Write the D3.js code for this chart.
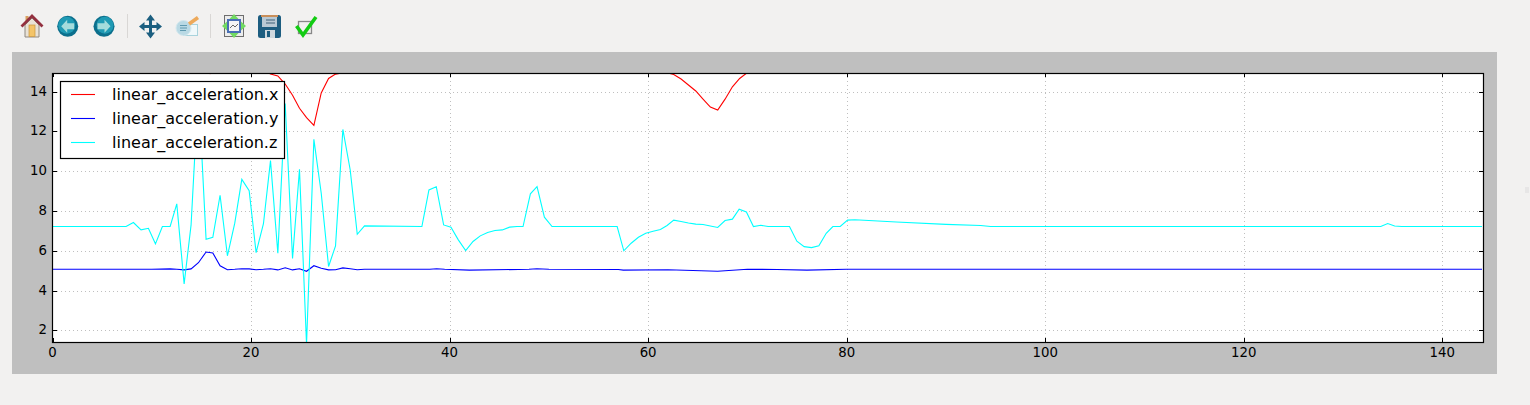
<!DOCTYPE html>
<html><head><meta charset="utf-8">
<script src="https://cdn.jsdelivr.net/npm/d3@7"></script>
<style>html,body{margin:0;padding:0;background:#f2f1f0;overflow:hidden}svg{display:block}text{font-family:"DejaVu Sans",sans-serif;fill:#000}</style>
</head><body><svg id="c" width="1530" height="405"></svg>
<script>
const xTicks=[0,20,40,60,80,100,120,140];
const yTicks=[2,4,6,8,10,12,14];
const legendLabels=["linear_acceleration.x","linear_acceleration.y","linear_acceleration.z"];
const seriesColors=["#ff0000","#0000ff","#00ffff"];

const tX=[0,14.7,15.5,15.87,17,21.25,21.96,22.7,23.44,24.18,24.88,25.59,26.33,27.07,27.81,28.51,29.25,30,45,61,61.91,62.58,63.32,64.06,64.8,65.53,66.27,67.01,67.75,68.49,69.22,69.9,70.6,100,144];
const accX=[15.3,15.3,15.0,14.9,15.2,15.1,14.88,14.79,14.38,13.82,13.16,12.69,12.30,13.93,14.66,14.88,14.95,15.2,15.3,15.2,14.95,14.86,14.63,14.33,14.03,13.62,13.22,13.07,13.62,14.24,14.66,14.92,15.2,15.3,15.3];

const tY=[0,10,11.85,12.52,13.26,13.96,14.7,15.47,16.15,16.88,17.62,18.36,19.07,19.81,20.51,21.25,21.96,22.7,23.44,24.18,24.88,25.59,26.33,27.07,27.81,28.51,29.25,29.99,30.7,31.43,38,38.7,39.5,42,48,48.8,50,57,57.5,62,67,70,73,76,80,144];
const accY=[5.07,5.07,5.09,5.07,5.04,5.09,5.40,5.94,5.89,5.25,5.05,5.07,5.10,5.09,5.05,5.07,5.10,5.04,5.15,5.04,5.10,4.97,5.25,5.12,5.04,5.05,5.14,5.10,5.05,5.07,5.07,5.10,5.07,5.03,5.07,5.10,5.07,5.06,5.03,5.05,4.97,5.07,5.06,5.03,5.07,5.07];

const tZ=[0,7.41,8.15,8.92,9.66,10.37,11.07,11.85,12.52,13.26,13.96,14.7,15.47,16.15,16.88,17.62,18.36,19.07,19.81,20.51,21.25,21.96,22.7,23.44,24.18,24.88,25.59,26.33,27.07,27.81,28.51,29.25,29.99,30.7,31.43,37.21,37.92,38.66,39.4,40.14,40.88,41.62,42.36,43.09,43.83,44.57,45.31,46.05,46.79,47.4,48.14,48.81,49.55,50.32,56.88,57.55,58.29,59.02,59.76,60.5,61.24,61.91,62.58,63.32,64.06,64.8,65.53,66.27,67.01,67.75,68.49,69.17,69.9,70.61,71.35,72.09,74.24,74.98,75.72,76.46,77.2,77.94,78.61,79.35,80.09,80.83,85,90,93.5,94.5,133.8,134.5,135.2,135.9,144];
const accZ=[7.22,7.22,7.42,7.05,7.13,6.35,7.22,7.22,8.36,4.34,7.3,14.2,6.58,6.68,8.79,5.75,7.39,9.59,9.02,5.91,7.36,10.53,5.88,13.4,5.61,10.1,1.3,11.6,8.89,5.21,6.25,12.1,10.06,6.83,7.25,7.22,9.06,9.22,7.3,7.19,6.55,6.01,6.47,6.75,6.92,7.02,7.05,7.19,7.22,7.22,8.86,9.22,7.69,7.22,7.22,6.0,6.38,6.68,6.88,6.98,7.07,7.27,7.54,7.47,7.4,7.34,7.32,7.25,7.17,7.52,7.59,8.09,7.95,7.22,7.28,7.22,7.22,6.48,6.21,6.16,6.25,6.88,7.22,7.22,7.54,7.56,7.45,7.33,7.27,7.22,7.22,7.37,7.25,7.22,7.22];

const svg=d3.select("#c");
// toolbar
const tb=svg.append("g");
tb.selectAll("rect.sep").data([127.5,210.5]).join("rect").attr("x",d=>d-.5).attr("y",14).attr("width",1).attr("height",24).attr("fill","#d9d7d5");
function circIcon(cx,dir){const g=tb.append("g").attr("transform",`translate(${cx},26.3) scale(${dir},1)`);
 g.append("circle").attr("r",10.5).attr("fill","#0c6f8c");
 g.append("circle").attr("r",8.5).attr("cx",-1).attr("cy",-1).attr("fill","#1f9ab4");
 g.append("path").attr("d","M-6.5,0L-0.5,-6.5V-3H6.5V3H-0.5V6.5Z").attr("fill","#a5dcdc");}
circIcon(67.7,1);circIcon(104,-1);
// home
const h=tb.append("g");
h.append("rect").attr("x",25.5).attr("y",16).attr("width",3).attr("height",7).attr("fill","#d8a060");
h.append("path").attr("d","M25,25L32,18L39,25V37H25Z").attr("fill","#e9e2d6").attr("stroke","#8f8880");
h.append("rect").attr("x",29).attr("y",25).attr("width",6).attr("height",11.5).attr("fill","#f4c468").attr("stroke","#c9963e").attr("stroke-width",.7);
h.append("path").attr("d","M21.5,26.5L32,16L42.5,26.5").attr("fill","none").attr("stroke","#93303f").attr("stroke-width",2.8);
// move
const m=tb.append("g").attr("fill","#1c5f80");
m.append("path").attr("d","M139,26.5l5.5,-4.5v3h4.5v-4.5h-3l4.5,-6l4.5,6h-3v4.5h4.5v-3l5.5,4.5l-5.5,4.5v-3h-4.5v4.5h3l-4.5,6l-4.5,-6h3v-4.5h-4.5v3Z");
// edit
const e=tb.append("g");
e.append("rect").attr("x",183.5).attr("y",24.5).attr("width",14).attr("height",11).attr("fill","#f0f8fa").attr("stroke","#a9d3dc");
e.append("circle").attr("cx",183.5).attr("cy",28).attr("r",7.5).attr("fill","#b9d9e4").attr("stroke","#d4e8ee");
e.append("path").attr("d","M180,25.5h7M180,28h7M180,30.5h6").attr("stroke","#5f9ab0").attr("stroke-width",1);
e.append("path").attr("d","M189,24L198,17.5").attr("stroke","#eda95a").attr("stroke-width",3.6);
// configure
const s=tb.append("g");
s.append("rect").attr("x",224.5).attr("y",15.5).attr("width",19).attr("height",21).attr("fill","#ececec").attr("stroke","#6e6e6e");
s.append("rect").attr("x",227).attr("y",19).attr("width",14).attr("height",14).attr("fill","#4a6fb5");
s.append("rect").attr("x",229).attr("y",21).attr("width",10).attr("height",10).attr("fill","#f4f4f4");
s.append("path").attr("d","M230,28l3,-3l2,2l3,-3").attr("fill","none").attr("stroke","#444").attr("stroke-width",.8);
s.append("path").attr("d","M234,14l-4.5,5h9ZM234,38l-4.5,-5h9ZM222,26l5,-4.5v9ZM246,26l-5,-4.5v9Z").attr("fill","#72da62");
// save
const v=tb.append("g");
v.append("rect").attr("x",258).attr("y",15).attr("width",23).attr("height",23).attr("rx",2.5).attr("fill","#1d5d80");
v.append("rect").attr("x",261).attr("y",15).attr("width",17).attr("height",2).attr("fill","#c98f5a");
v.append("rect").attr("x",262).attr("y",17).attr("width",15).attr("height",10).attr("fill","#b9c9d4");
v.append("path").attr("d","M266,20h9M266,23h9").attr("stroke","#3f6078");
v.append("rect").attr("x",265).attr("y",30).attr("width",10).attr("height",8).attr("fill","#cfd8de");
v.append("rect").attr("x",267).attr("y",31).attr("width",3).attr("height",6).attr("fill","#1d5d80");
// check
const k=tb.append("g");
k.append("rect").attr("x",298.5).attr("y",21.5).attr("width",13).attr("height",12).attr("fill","#f2f1f0").attr("stroke","#888").attr("stroke-width",1.3);
k.append("path").attr("d","M296.5,26L303,35L316,17").attr("fill","none").attr("stroke","#12cc12").attr("stroke-width",3.6);
// splitter
svg.selectAll("rect.sp").data([187.5,189.5,191.5]).join("rect").attr("x",1525).attr("y",d=>d).attr("width",4).attr("height",1).attr("fill","#dcdcdc");

// panel
svg.append("rect").attr("x",12).attr("y",52).attr("width",1485).attr("height",322).attr("fill","#bfbfbf");
const L=53,R=1483,T=73,B=342;
const x=d3.scaleLinear().domain([0,144.1]).range([L-.5,R]);
const y=d3.scaleLinear().domain([14,2]).range([91.6,330.4]);
svg.append("rect").attr("x",L).attr("y",T).attr("width",R-L).attr("height",B-T).attr("fill","#fff");
svg.append("clipPath").attr("id","cp").append("rect").attr("x",L).attr("y",T).attr("width",R-L).attr("height",B-T);
const px=d=>Math.round(x(d))+.5, py=d=>Math.round(y(d))+.5;
// grid
const grid=svg.append("g").attr("stroke","#000").attr("stroke-opacity",.25).attr("stroke-width",1).attr("stroke-dasharray","1,3");
grid.selectAll("line.v").data(xTicks.slice(1)).join("line").attr("x1",px).attr("x2",px).attr("y1",T).attr("y2",B);
grid.selectAll("line.h").data(yTicks).join("line").attr("y1",py).attr("y2",py).attr("x1",L).attr("x2",R);
// lines
const lg=svg.append("g").attr("clip-path","url(#cp)").attr("fill","none").attr("stroke-width",1.1);
const rows=[[tX,accX],[tY,accY],[tZ,accZ]];
rows.forEach(([t,v],i)=>{
 const ln=d3.line().x((d,j)=>x(t[j])).y(d=>y(d));
 lg.append("path").attr("d",ln(v)).attr("stroke",seriesColors[i]);
});
// ticks
const tk=svg.append("g").attr("stroke","#000").attr("stroke-width",1);
xTicks.forEach(d=>{tk.append("line").attr("x1",px(d)).attr("x2",px(d)).attr("y1",B).attr("y2",B-4);tk.append("line").attr("x1",px(d)).attr("x2",px(d)).attr("y1",T).attr("y2",T+4);});
yTicks.forEach(d=>{tk.append("line").attr("x1",L).attr("x2",L+4).attr("y1",py(d)).attr("y2",py(d));tk.append("line").attr("x1",R).attr("x2",R-4).attr("y1",py(d)).attr("y2",py(d));});
svg.append("rect").attr("x",52.5).attr("y",73.5).attr("width",1431).attr("height",269).attr("fill","none").attr("stroke","#000").attr("stroke-width",1.2);
svg.selectAll("text.xt").data(xTicks).join("text").attr("x",x).attr("y",357).attr("text-anchor","middle").attr("font-size",13.3).text(d=>d);
svg.selectAll("text.yt").data(yTicks).join("text").attr("x",47).attr("y",d=>y(d)+4).attr("text-anchor","end").attr("font-size",13.3).text(d=>d);
// legend
svg.append("rect").attr("x",60.5).attr("y",81.5).attr("width",224).attr("height",77).attr("fill","#fff").attr("stroke","#000").attr("stroke-width",1.2);
const ly=[94.5,118.5,142.5];
legendLabels.forEach((t,i)=>{
 svg.append("line").attr("x1",71).attr("x2",95).attr("y1",ly[i]).attr("y2",ly[i]).attr("stroke",seriesColors[i]).attr("stroke-width",1.1);
 svg.append("text").attr("x",112).attr("y",ly[i]+5).attr("font-size",16).text(t);
});
</script></body></html>
